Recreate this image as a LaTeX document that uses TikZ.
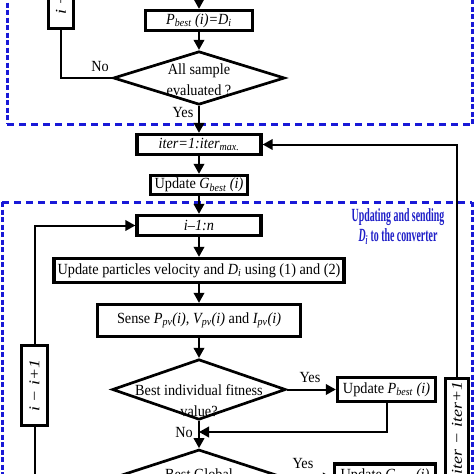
\documentclass[tikz,border=0pt]{standalone}
\usepackage{fontspec}
\setmainfont{Liberation Serif}[FakeStretch=0.92]
\newfontfamily\rotfont{Liberation Serif}[FakeStretch=1.2]
\newfontfamily\bluefont{Liberation Serif}[FakeStretch=0.53]
\usetikzlibrary{arrows.meta,shapes.geometric}
\definecolor{dashblue}{RGB}{25,25,215}
\definecolor{textblue}{RGB}{30,30,200}
\begin{document}
\begin{tikzpicture}[x=1pt,y=-1pt,
  box/.style={draw, line width=3.3pt, inner sep=0pt, align=center,
    font=\fontsize{15.5}{21}\selectfont},
  dia/.style={draw, diamond, line width=2.7pt, inner sep=0pt},
  txt/.style={inner sep=0pt, align=center, font=\fontsize{15.5}{21}\selectfont},
  ln/.style={line width=2pt},
  arr/.style={line width=2pt, -{Triangle[length=10pt,width=10.5pt]}},
  dh/.style={dashblue, line width=3pt, dash pattern=on 7pt off 5pt},
  dv/.style={dashblue, line width=3pt, dash pattern=on 5pt off 2.5pt},
  bluetxt/.style={textblue, inner sep=0pt, align=center,
    font=\bluefont\bfseries\fontsize{18.6}{20}\selectfont},
  rotlbl/.style={font=\rotfont\itshape\fontsize{15}{18}\selectfont}
]
\useasboundingbox (0,0) rectangle (474,474);
\clip (0,0) rectangle (474,474);
\fill[white] (0,0) rectangle (474,474);

% blue dashed frames
\draw[dv] (7,-20) -- (7,124);
\draw[dh] (7,124) -- (472,124);
\draw[dv] (472,124) -- (472,-20);
\draw[dh] (2,202) -- (472,202);
\draw[dv] (2,202) -- (2,490);
\draw[dv] (472,202) -- (472,490);

% top part
\coordinate (topin) at (199,-10);
\node[box, minimum width=25pt, minimum height=80pt] (ltop) at (61,-11.5)
  {\rotatebox{90}{\rotfont\itshape\fontsize{15}{18}\selectfont i − i+1}};
\node[box, minimum width=107pt, minimum height=20pt] (pb) at (199,20.5)
  {\textit{P\textsubscript{best} (i)=D\textsubscript{i}}};
\node[dia, minimum width=171.5pt, minimum height=53.5pt] (d1) at (199,78) {};
\node[txt] (d1t) at (199,79.5) {All sample\\evaluated ?};
\node[txt] (no1) at (100,66) {No};
\node[txt] (yes1) at (183,112) {Yes};

\draw[arr] (topin) -- (pb.north);
\draw[arr] (pb.south) -- (d1.north);
\draw[ln] (ltop.south) |- (d1.west);

% middle
\node[box, minimum width=124pt, minimum height=20pt] (it) at (199,144.5)
  {\textit{iter=1:iter\textsubscript{max.}}};
\node[box, minimum width=97pt, minimum height=19pt] (gb) at (199,185)
  {Update \textit{G\textsubscript{best} (i)}};
\node[box, minimum width=124pt, minimum height=20pt] (nb) at (199,225.5)
  {\textit{i–1:n}};
\node[bluetxt] (lbl) at (398,227)
  {Updating and sending\\\textit{D\textsubscript{i}} to the converter};
\node[box, minimum width=290pt, minimum height=24pt] (up) at (199,270.5)
  {Update particles velocity and \textit{D\textsubscript{i}} using (1) and (2)};
\node[box, minimum width=203pt, minimum height=32pt] (se) at (199,320.5)
  {Sense \textit{P\textsubscript{pv}(i)}, \textit{V\textsubscript{pv}(i)} and \textit{I\textsubscript{pv}(i)}};

\draw[arr] (d1.south) -- (it.north);
\draw[arr] (it.south) -- (gb.north);
\draw[arr] (gb.south) -- (nb.north);
\draw[arr] (nb.south) -- (up.north);
\draw[arr] (up.south) -- (se.north);

% decision 2
\node[dia, minimum width=173.5pt, minimum height=60.5pt] (d2) at (199,389.5) {};
\node[txt] (d2t) at (199,400.5) {Best individual fitness\\value?};
\draw[arr] (se.south) -- (d2.north);
\node[txt] (yes2) at (310,377) {Yes};
\node[box, minimum width=98pt, minimum height=24pt] (pp) at (386.5,389.5)
  {Update \textit{P\textsubscript{best} (i)}};
\draw[arr] (d2.east) -- (pp.west);
\coordinate (j) at (199,432);
\draw[arr] (pp.south) |- (j);
\node[txt] (no2) at (184,432) {No};

% decision 3
\node[dia, minimum width=173.5pt, minimum height=57pt] (d3) at (199,478) {};
\node[txt] (d3t) at (199,474) {Best Global};
\draw[arr] (d2.south) -- (d3.north);
\node[txt] (yes3) at (303,463) {Yes};
\node[box, minimum width=101pt, minimum height=24pt] (gg) at (385,476)
  {Update \textit{G\textsubscript{best} (i)}};
\draw[arr] (d3.east) -- (d3.east -| gg.west);

% loops
\node[box, minimum width=26pt, minimum height=80pt] (ii) at (34.5,385.5)
  {\rotatebox{90}{\rotfont\itshape\fontsize{15}{18}\selectfont i − i+1}};
\draw[arr] (ii.north) |- (nb.west);
\coordinate (iibot) at (34.5,490);
\draw[ln] (ii.south) -- (iibot);

\node[box, minimum width=23pt, minimum height=99pt] (ib) at (457,428)
  {\rotatebox{90}{\rotfont\itshape\fontsize{15}{18}\selectfont iter − iter+1}};
\draw[arr] (ib.north) |- (it.east);
\end{tikzpicture}
\end{document}
